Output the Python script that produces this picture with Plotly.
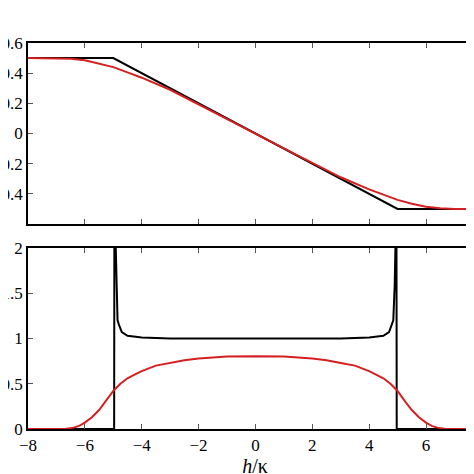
import plotly.graph_objects as go

h_top_black = [-8, -5, 5, 8]
m_top_black = [0.5, 0.5, -0.5, -0.5]

h_top_red = [-8, -7, -6.5, -6, -5.5, -5, -4.5, -4, -3, -2, -1, 0, 1, 2, 3, 4, 4.5, 5, 5.5, 6, 6.5, 7, 8]
m_top_red = [0.5, 0.5, 0.495, 0.485, 0.465, 0.44, 0.405, 0.37, 0.29, 0.195, 0.098, 0.0,
             -0.098, -0.195, -0.29, -0.37, -0.405, -0.44, -0.465, -0.485, -0.495, -0.5, -0.5]

h_bot_black = [-8, -4.97, -4.96, -4.9, -4.85, -4.8, -4.7, -4.5, -4, -3, 0, 3, 4, 4.5, 4.7, 4.8, 4.85, 4.9, 4.96, 4.97, 8]
d_bot_black = [0, 0, 2.6, 1.6, 1.2, 1.15, 1.07, 1.03, 1.01, 1.0, 1.0, 1.0, 1.01, 1.03, 1.07, 1.15, 1.2, 1.6, 2.6, 0, 0]

h_bot_red = [-8, -6.7, -6.4, -6.2, -6, -5.75, -5.5, -5.25, -5, -4.75, -4.5, -4.25, -4, -3.5, -3, -2.5, -2, -1, 0,
             1, 2, 2.5, 3, 3.5, 4, 4.25, 4.5, 4.75, 5, 5.25, 5.5, 5.75, 6, 6.2, 6.4, 6.7, 8]
d_bot_red = [0, 0, 0.015, 0.035, 0.07, 0.13, 0.21, 0.31, 0.42, 0.5, 0.56, 0.6, 0.64, 0.7, 0.73, 0.76, 0.78, 0.8, 0.805,
             0.8, 0.78, 0.76, 0.73, 0.7, 0.64, 0.6, 0.56, 0.5, 0.42, 0.31, 0.21, 0.13, 0.07, 0.035, 0.015, 0, 0]

x_ticks = [-8, -6, -4, -2, 0, 2, 4, 6, 8]
top_ticks = [0.6, 0.4, 0.2, 0, -0.2, -0.4, -0.6]
top_labels = ["0.6", "0.4", "0.2", "0", "−0.2", "−0.4", ""]
bot_ticks = [0, 0.5, 1, 1.5, 2]
bot_labels = ["0", "0.5", "1", "1.5", "2"]

red = "#d42020"
fig = go.Figure()
fig.add_trace(go.Scatter(x=h_top_black, y=m_top_black, mode="lines", line=dict(color="black", width=2), xaxis="x", yaxis="y"))
fig.add_trace(go.Scatter(x=h_top_red, y=m_top_red, mode="lines", line=dict(color=red, width=2), xaxis="x", yaxis="y"))
fig.add_trace(go.Scatter(x=h_bot_black, y=d_bot_black, mode="lines", line=dict(color="black", width=2), xaxis="x2", yaxis="y2"))
fig.add_trace(go.Scatter(x=h_bot_red, y=d_bot_red, mode="lines", line=dict(color=red, width=2), xaxis="x2", yaxis="y2"))

font = dict(family="'Liberation Serif', 'Times New Roman', serif", size=17, color="black")
ax = dict(showline=True, linecolor="black", linewidth=1.5, mirror="ticks", ticks="inside",
          ticklen=5, tickcolor="#555", showgrid=False, zeroline=False, automargin=False, tickfont=font)

fig.update_layout(
    width=474, height=474, showlegend=False,
    paper_bgcolor="white", plot_bgcolor="white",
    font=font,
    margin=dict(l=20, r=0, t=35, b=53),
    xaxis=dict(ax, domain=[0, 1], range=[-8, 7.97], tickvals=x_ticks, showticklabels=False, anchor="y"),
    yaxis=dict(ax, domain=[0.531, 1], range=[-0.6, 0.6], tickvals=top_ticks, ticktext=top_labels, anchor="x"),
    xaxis2=dict(ax, domain=[0, 1], range=[-8, 7.97], tickvals=x_ticks, anchor="y2",
                title=dict(text="<i>h</i>/κ", font=dict(font, size=20), standoff=0)),
    yaxis2=dict(ax, domain=[0, 0.469], range=[0, 2], tickvals=bot_ticks, ticktext=bot_labels, anchor="x2"),
)
fig.write_html("out.html")
